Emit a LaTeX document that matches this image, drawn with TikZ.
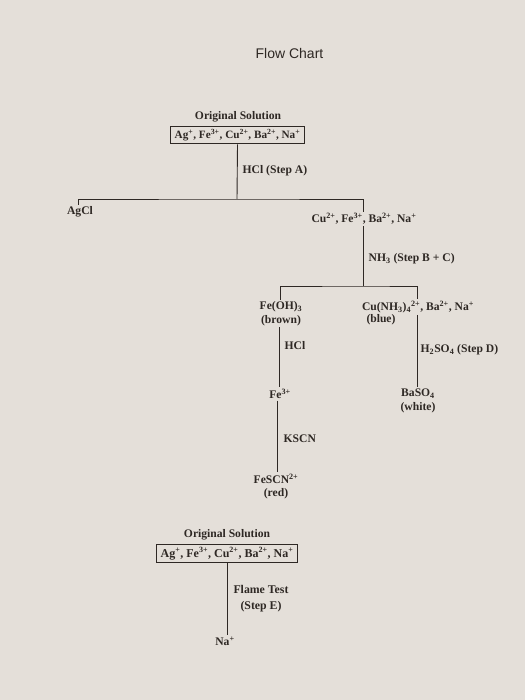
\documentclass[tikz,border=0pt]{standalone}
\usepackage{fontspec}
\setmainfont{Liberation Serif}
\newfontfamily\titlefont{Liberation Sans}
\definecolor{paper}{HTML}{E4DFD9}
\definecolor{ink}{HTML}{2E2824}
\begin{document}
\begin{tikzpicture}[x=1pt,y=-1pt,
  txt/.style={inner sep=1.5pt, text=ink, font=\fontsize{11.6}{13.5}\selectfont\bfseries, align=center},
  lbl/.style={txt, anchor=west},
  solbox/.style={txt, draw=ink, line width=0.9pt, inner xsep=4pt, inner ysep=3pt},
  conn/.style={draw=ink, line width=0.9pt}]
\fill[paper] (0,0) rectangle (525,700);
\useasboundingbox (0,0) rectangle (525,700);

\node[text=ink, font=\fontsize{14}{16}\selectfont\titlefont] (title) at (289.5,54) {Flow Chart};

% first tree
\node[txt] (os1) at (238,117) {Original Solution};
\node[solbox, font=\fontsize{11.2}{13}\selectfont\bfseries] (box1) at (237.5,135) {Ag\textsuperscript{+}, Fe\textsuperscript{3+}, Cu\textsuperscript{2+}, Ba\textsuperscript{2+}, Na\textsuperscript{+}};
\node[lbl] (hcla) at (241,171) {HCl (Step A)};
\coordinate (j1) at (237,199);
\node[txt] (agcl) at (80,212) {AgCl};
\node[txt] (cu1) at (364,219) {Cu\textsuperscript{2+}, Fe\textsuperscript{3+}, Ba\textsuperscript{2+}, Na\textsuperscript{+}};
\node[lbl] (nh3) at (367,259) {NH\textsubscript{3} (Step B + C)};
\coordinate (j2) at (363,286);
\node[txt] (feoh) at (281,313.5) {Fe(OH)\textsubscript{3}\\(brown)};
\node[txt] (cu2) at (418,307) {Cu(NH\textsubscript{3})\textsubscript{4}\textsuperscript{2+}, Ba\textsuperscript{2+}, Na\textsuperscript{+}};
\node[txt] (blue) at (381,320) {(blue)};
\node[lbl] (hclb) at (283,346) {HCl};
\node[lbl] (h2so4) at (419,350) {H\textsubscript{2}SO\textsubscript{4} (Step D)};
\node[txt] (fe3) at (280,394) {Fe\textsuperscript{3+}};
\node[txt] (baso4) at (418,401) {BaSO\textsubscript{4}\\(white)};
\node[lbl] (kscn) at (282,439) {KSCN};
\node[txt] (fescn) at (276,486.5) {FeSCN\textsuperscript{2+}\\(red)};

\draw[conn] (box1.south) -- (j1);
\draw[conn] (agcl.north -| 78,0) |- (j1) -| (cu1.north -| 363,0);
\draw[conn] (cu1.south -| 363,0) -- (j2);
\draw[conn] (feoh.north -| 280,0) |- (j2) -| (cu2.north -| 417,0);
\draw[conn] (feoh.south -| 279,0) -- (fe3.north -| 279,0);
\draw[conn] (cu2.south -| 417,0) -- (baso4.north -| 417,0);
\draw[conn] (fe3.south -| 277,0) -- (fescn.north -| 277,0);

% second tree
\node[txt] (os2) at (227,535) {Original Solution};
\node[solbox, font=\fontsize{12}{13}\selectfont\bfseries] (box2) at (227,553.5) {Ag\textsuperscript{+}, Fe\textsuperscript{3+}, Cu\textsuperscript{2+}, Ba\textsuperscript{2+}, Na\textsuperscript{+}};
\node[txt, font=\fontsize{11.8}{16}\selectfont\bfseries] (flame) at (261,599) {Flame Test\\(Step E)};
\node[txt] (na) at (225,641) {Na\textsuperscript{+}};
\draw[conn] (box2.south) -- (na.north -| box2.south);
\end{tikzpicture}
\end{document}
